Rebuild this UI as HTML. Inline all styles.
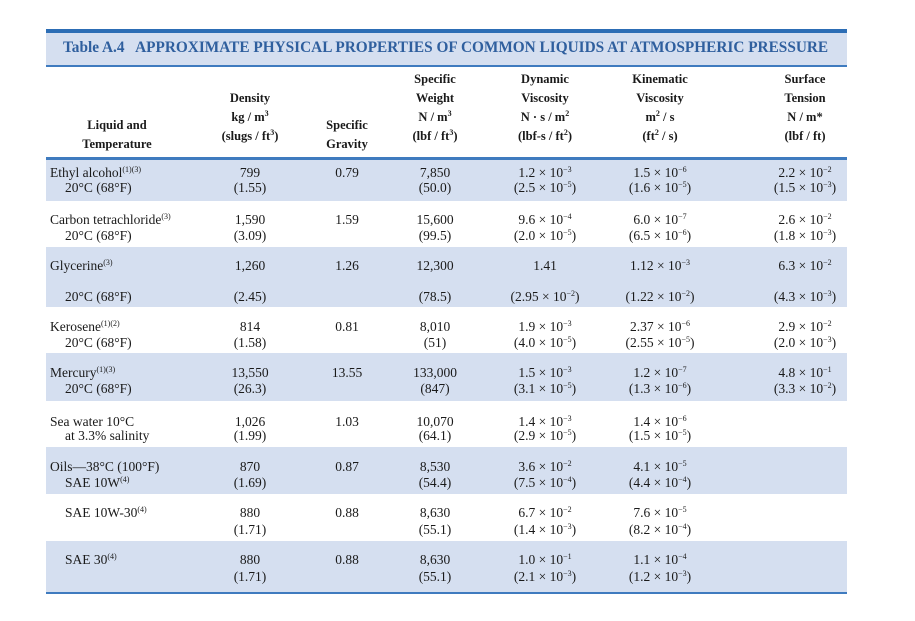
<!DOCTYPE html>
<html><head><meta charset="utf-8">
<style>
body{margin:0;width:915px;height:621px;background:#fff;position:relative;overflow:hidden;font-family:"Liberation Serif",serif;color:#1a1a1a}
.a{position:absolute;white-space:nowrap;font-size:13.5px;line-height:14px}
.c{transform:translateX(-50%)}
.h{font-weight:bold;font-size:12.5px}
sup{font-size:8px;line-height:0;vertical-align:5px}
.band{position:absolute;left:46px;width:801px;background:#d5dff0}
.ln{position:absolute;left:46px;width:801px;background:#3f7bbf}
</style></head><body>
<div class="ln" style="top:29px;height:4px;background:#2c6db5"></div>
<div class="band" style="top:33px;height:32px"></div>
<div class="ln" style="top:65px;height:2px"></div>
<div class="a h" style="left:63px;top:41px;font-size:15.3px;color:#2f5f9e">Table A.4&nbsp;&nbsp; APPROXIMATE PHYSICAL PROPERTIES OF COMMON LIQUIDS AT ATMOSPHERIC PRESSURE</div>
<div class="ln" style="top:157px;height:3px"></div>
<div class="ln" style="top:592px;height:2px"></div>
<div id="t"></div>
<script>
const headers=[
 [117,["","","Liquid and","Temperature"]],
 [250,["","Density","kg / m<sup>3</sup>","(slugs / ft<sup>3</sup>)"]],
 [347,["","","Specific","Gravity"]],
 [435,["Specific","Weight","N / m<sup>3</sup>","(lbf / ft<sup>3</sup>)"]],
 [545,["Dynamic","Viscosity","N · s / m<sup>2</sup>","(lbf-s / ft<sup>2</sup>)"]],
 [660,["Kinematic","Viscosity","m<sup>2</sup> / s","(ft<sup>2</sup> / s)"]],
 [805,["Surface","Tension","N / m*","(lbf / ft)"]]];
const hY=[[72,91,110,129],[72,91,110,129],[72,91,118,137],[72,91,110,129]];
const rowTops=[160,201,247,307,353,401,447,494,541];
const rowBottoms=[201,247,307,353,401,447,494,541,592];
const shaded=[1,0,1,0,1,0,1,0,1];
const line1Y=[166,213,259,320,366,415,460,506,553];
const line2Y=[181,229,290,336,382,429,476,523,570];
const names=[["Ethyl alcohol<sup>(1)(3)</sup>","20°C (68°F)"],["Carbon tetrachloride<sup>(3)</sup>","20°C (68°F)"],["Glycerine<sup>(3)</sup>","20°C (68°F)"],["Kerosene<sup>(1)(2)</sup>","20°C (68°F)"],["Mercury<sup>(1)(3)</sup>","20°C (68°F)"],["Sea water 10°C","at 3.3% salinity"],["Oils—38°C (100°F)","SAE 10W<sup>(4)</sup>"],["","SAE 10W-30<sup>(4)</sup>"],["","SAE 30<sup>(4)</sup>"]];
const e=(m,p)=>m+" × 10<sup>"+p+"</sup>";
const density=[["799","(1.55)"],["1,590","(3.09)"],["1,260","(2.45)"],["814","(1.58)"],["13,550","(26.3)"],["1,026","(1.99)"],["870","(1.69)"],["880","(1.71)"],["880","(1.71)"]];
const gravity=[["0.79",""],["1.59",""],["1.26",""],["0.81",""],["13.55",""],["1.03",""],["0.87",""],["0.88",""],["0.88",""]];
const weight=[["7,850","(50.0)"],["15,600","(99.5)"],["12,300","(78.5)"],["8,010","(51)"],["133,000","(847)"],["10,070","(64.1)"],["8,530","(54.4)"],["8,630","(55.1)"],["8,630","(55.1)"]];
const dyn=[[e("1.2","−3"),"("+e("2.5","−5")+")"],[e("9.6","−4"),"("+e("2.0","−5")+")"],["1.41","("+e("2.95","−2")+")"],[e("1.9","−3"),"("+e("4.0","−5")+")"],[e("1.5","−3"),"("+e("3.1","−5")+")"],[e("1.4","−3"),"("+e("2.9","−5")+")"],[e("3.6","−2"),"("+e("7.5","−4")+")"],[e("6.7","−2"),"("+e("1.4","−3")+")"],[e("1.0","−1"),"("+e("2.1","−3")+")"]];
const kin=[[e("1.5","−6"),"("+e("1.6","−5")+")"],[e("6.0","−7"),"("+e("6.5","−6")+")"],[e("1.12","−3"),"("+e("1.22","−2")+")"],[e("2.37","−6"),"("+e("2.55","−5")+")"],[e("1.2","−7"),"("+e("1.3","−6")+")"],[e("1.4","−6"),"("+e("1.5","−5")+")"],[e("4.1","−5"),"("+e("4.4","−4")+")"],[e("7.6","−5"),"("+e("8.2","−4")+")"],[e("1.1","−4"),"("+e("1.2","−3")+")"]];
const tension=[[e("2.2","−2"),"("+e("1.5","−3")+")"],[e("2.6","−2"),"("+e("1.8","−3")+")"],[e("6.3","−2"),"("+e("4.3","−3")+")"],[e("2.9","−2"),"("+e("2.0","−3")+")"],[e("4.8","−1"),"("+e("3.3","−2")+")"],["",""],["",""],["",""],["",""]];
const cols=[[250,density,"density"],[347,gravity,"specific-gravity"],[435,weight,"specific-weight"],[545,dyn,"dynamic-viscosity"],[660,kin,"kinematic-viscosity"],[805,tension,"surface-tension"]];
const T=document.getElementById('t');
function txt(x,y,h,cls){const d=document.createElement('div');d.className='a '+cls;d.style.left=x+'px';d.style.top=y+'px';d.innerHTML=h;T.appendChild(d);return d;}
headers.forEach((h,i)=>{const ys=i==2||i==0?hY[2]:hY[0];h[1].forEach((s,j)=>{if(!s)return;const d=txt(h[0],ys[j],s,'c h');

});});
rowTops.forEach((top,i)=>{
 if(shaded[i]){const b=document.createElement('div');b.className='band';b.style.top=top+'px';b.style.height=(rowBottoms[i]-top)+'px';T.insertBefore(b,T.firstChild);
 
 }
 const n1=txt(i>=7?65:50,line1Y[i],names[i][0]||names[i][1],'');
 
 
 if(names[i][0]){const n2=txt(65,line2Y[i],names[i][1],'');
 
 }
 cols.forEach(c=>{const v=c[1][i];
  if(v[0]){const d=txt(c[0],line1Y[i],v[0],'c');
  
  }
  if(v[1]){const d=txt(c[0],line2Y[i],v[1],'c');
  
  }
 });
});
</script>
</body></html>
